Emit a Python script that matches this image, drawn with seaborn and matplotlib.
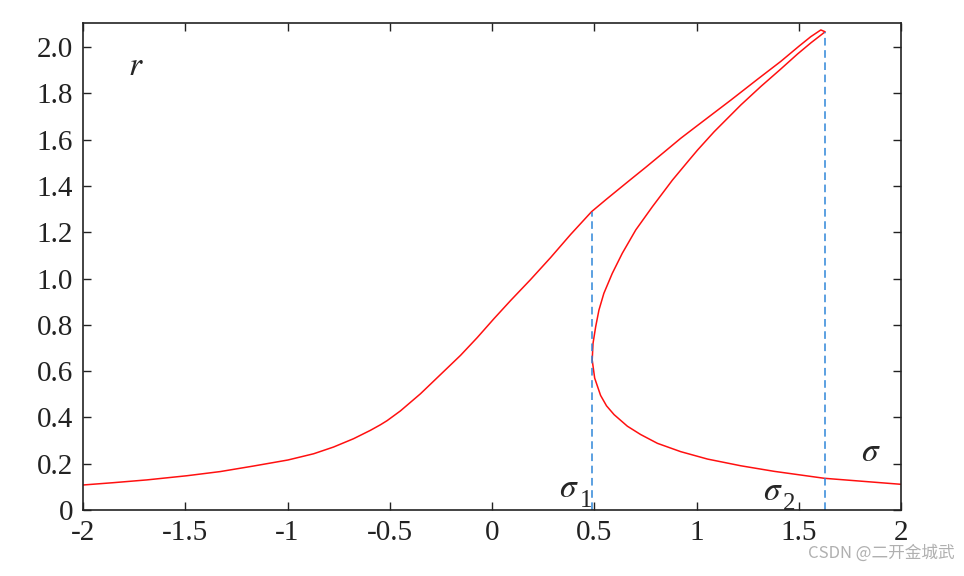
import matplotlib
matplotlib.use("Agg")
import matplotlib.pyplot as plt
import seaborn as sns
import pandas as pd

# Response curve path: upper branch -> turning point (sigma2) -> middle branch -> turning point (sigma1) -> lower branch
sigma_vals = [-2.0, -1.852, -1.688, -1.492, -1.329, -1.166, -0.998, -0.872, -0.775, -0.677,
              -0.595, -0.546, -0.513, -0.448, -0.350, -0.252, -0.154, -0.072, 0.009, 0.091,
              0.188, 0.286, 0.384, 0.487, 0.56, 0.621, 0.678, 0.751, 0.84, 0.923, 1.0, 1.168,
              1.3, 1.412, 1.5, 1.559, 1.608, 1.629,
              1.559, 1.494, 1.412, 1.315, 1.217, 1.086, 1.005, 0.964, 0.882, 0.784, 0.703,
              0.637, 0.588, 0.547, 0.523, 0.507, 0.494, 0.490,
              0.502, 0.531, 0.56, 0.597, 0.662, 0.727, 0.809, 0.923, 1.054, 1.217, 1.380, 1.625, 2.0]
r_vals = [0.108, 0.118, 0.130, 0.148, 0.166, 0.190, 0.216, 0.243, 0.272, 0.308,
          0.344, 0.368, 0.386, 0.428, 0.502, 0.585, 0.668, 0.745, 0.826, 0.905,
          0.995, 1.090, 1.190, 1.289, 1.343, 1.387, 1.428, 1.480, 1.545, 1.606, 1.658, 1.771,
          1.862, 1.938, 2.003, 2.045, 2.074, 2.066,
          2.018, 1.970, 1.905, 1.830, 1.750, 1.634, 1.555, 1.512, 1.425, 1.310, 1.210,
          1.109, 1.022, 0.936, 0.864, 0.792, 0.720, 0.648,
          0.570, 0.495, 0.450, 0.412, 0.362, 0.326, 0.288, 0.252, 0.220, 0.191, 0.167, 0.137, 0.111]

sigma1 = 0.487
r_sigma1 = 1.289
sigma2 = 1.629
r_sigma2 = 2.066

x_ticks = [-2, -1.5, -1, -0.5, 0, 0.5, 1, 1.5, 2]
x_labels = ['-2', '-1.5', '-1', '-0.5', '0', '0.5', '1', '1.5', '2']
y_ticks = [0, 0.2, 0.4, 0.6, 0.8, 1.0, 1.2, 1.4, 1.6, 1.8, 2.0]
y_labels = ['0', '0.2', '0.4', '0.6', '0.8', '1.0', '1.2', '1.4', '1.6', '1.8', '2.0']

sns.set_theme(style="ticks")
plt.rcParams['font.family'] = ['Liberation Serif', 'DejaVu Serif']
plt.rcParams['mathtext.fontset'] = 'stix'

fig = plt.figure(figsize=(9.64, 5.76), dpi=100)
ax = fig.add_axes([83/964, 1-510/576, (901-83)/964, (510-23)/576])

df = pd.DataFrame({'sigma': sigma_vals, 'r': r_vals})
sns.lineplot(data=df, x='sigma', y='r', sort=False, estimator=None, color='#ff1010', lw=1.1, ax=ax)

ax.plot([sigma1, sigma1], [0, r_sigma1], ls=(0, (5, 3)), color='#2f86d8', lw=1.1)
ax.plot([sigma2, sigma2], [0, r_sigma2], ls=(0, (5, 3)), color='#2f86d8', lw=1.1)

ax.set_xlim(-2, 2)
ax.set_ylim(0, 2.104)
ax.set_xticks(x_ticks)
ax.set_xticklabels(x_labels)
ax.set_yticks(y_ticks)
ax.set_yticklabels(y_labels)
ax.set_xlabel('')
ax.set_ylabel('')
ax.tick_params(direction='in', length=6, width=1.0, top=True, right=True, labelsize=21,
               colors='#222222', pad=7)
for s in ax.spines.values():
    s.set_visible(True)
    s.set_linewidth(1.2)
    s.set_color('#222222')

ax.text(-1.78, 1.879, r'$r$', fontsize=24, ha='left', va='baseline')
ax.text(0.33, 0.056, r'$\sigma$', fontsize=24, ha='left', va='baseline')
ax.text(0.43, 0.012, '1', fontsize=18, ha='left', va='baseline')
ax.text(1.324, 0.043, r'$\sigma$', fontsize=24, ha='left', va='baseline')
ax.text(1.424, 0.0, '2', fontsize=18, ha='left', va='baseline')
ax.text(1.804, 0.212, r'$\sigma$', fontsize=24, ha='left', va='baseline')

fig.text(955/964, 1-553/576, 'CSDN @二开金城武', fontsize=12, color='#b0b0b0',
         ha='right', va='center', family=['Noto Sans CJK SC', 'DejaVu Sans'])

fig.savefig('out.png', dpi=100)
